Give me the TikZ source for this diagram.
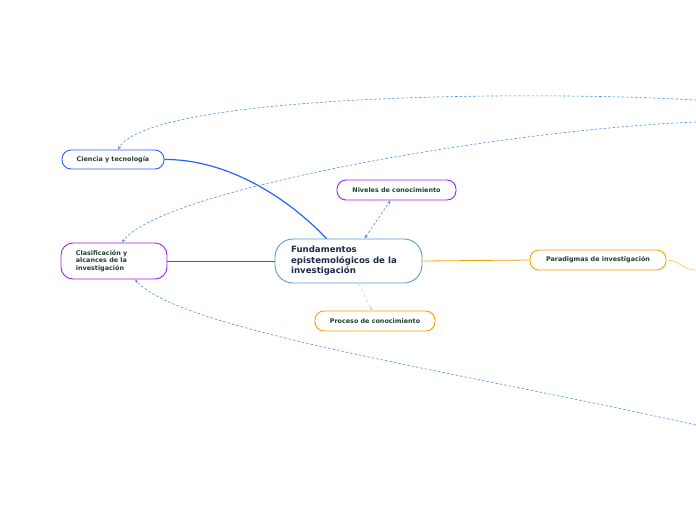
\documentclass[tikz,border=0pt]{standalone}
\usepackage{fontspec}
\setmainfont{DejaVu Sans}
\usetikzlibrary{arrows.meta}
\definecolor{tg}{HTML}{1F4032}
\definecolor{nv}{HTML}{1B2A4A}
\definecolor{cb}{HTML}{5B9BD5}
\definecolor{bb}{HTML}{2962FF}
\definecolor{pp}{HTML}{A020F0}
\definecolor{oo}{HTML}{F5A000}
\definecolor{dl}{HTML}{4A90E2}
\tikzset{
 box/.style={draw, rounded corners=9pt, line width=0.9pt, fill=white, text=tg, font=\fontsize{6.4}{7.4}\selectfont\bfseries, inner sep=0pt},
 rel/.style={dl, line width=0.6pt, dash pattern=on 2.5pt off 2pt}
}
\begin{document}
\begin{tikzpicture}[x=1pt,y=-1pt]
\useasboundingbox (0,0) rectangle (696,520);
\node[box, draw=cb, rounded corners=18pt, minimum width=147pt, minimum height=44pt, text=nv, font=\fontsize{8.6}{10.4}\selectfont\bfseries, align=left] (c) at (348.5,261) {Fundamentos\\epistemológicos de la\\investigación\hspace*{50pt}};
\node[box, draw=bb, minimum width=102pt, minimum height=19pt] (ct) at (113,159.5) {Ciencia y tecnología};
\node[box, draw=pp, minimum width=119pt, minimum height=20pt] (nv) at (396.5,190) {Niveles de conocimiento};
\node[box, draw=pp, rounded corners=12pt, minimum width=106pt, minimum height=36pt, align=left] (cl) at (114,261) {Clasificación y\\alcances de la\\investigación\hspace*{28pt}};
\node[box, draw=oo, minimum width=136pt, minimum height=20pt] (pa) at (598,260) {Paradigmas de investigación};
\node[box, draw=oo, minimum width=120pt, minimum height=20pt] (pr) at (375,321) {Proceso de conocimiento};
\coordinate (e1) at (696,100);
\coordinate (e2) at (696,122);
\coordinate (e3) at (696,425);
\coordinate (e4) at (696,270);
\draw[bb, line width=1.2pt] ([xshift=-22pt]c.north) .. controls (280,190) and (220,159) .. (ct.east);
\draw[pp, line width=0.8pt] (c.west) -- (cl.east);
\draw[oo, line width=0.8pt] (c.east) -- (pa.west);
\draw[oo!60, line width=0.7pt] (pa.east) .. controls (680,260) and (682,270) .. (e4);
\draw[rel, {Stealth[length=4pt]}-{Stealth[length=4pt]}] ([xshift=16pt]c.north) -- ([xshift=-6pt]nv.south);
\draw[dl!40, dashed, line width=0.6pt, -{Stealth[length=4pt]}] ([xshift=10pt]c.south) -- ([xshift=-3pt]pr.north);
\draw[rel, -{Stealth[length=4pt]}] (e1) .. controls (520,90) and (150,95) .. ([xshift=5pt]ct.north);
\draw[rel, -{Stealth[length=4pt]}] (e2) .. controls (500,130) and (160,190) .. ([xshift=8pt]cl.north);
\draw[rel, -{Stealth[length=4pt]}] (e3) .. controls (450,370) and (180,330) .. ([xshift=21pt]cl.south);
\end{tikzpicture}
\end{document}
